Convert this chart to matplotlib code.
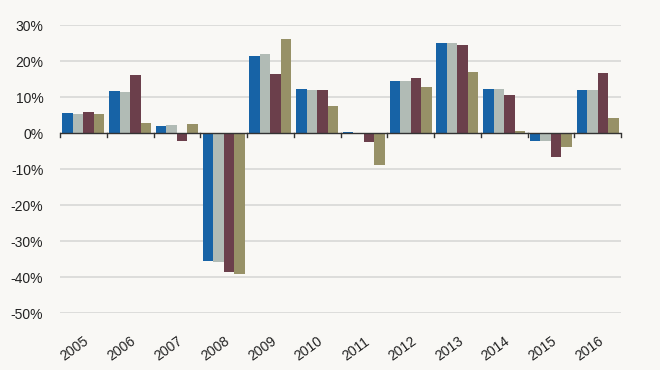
import matplotlib
matplotlib.use("Agg")
import matplotlib.pyplot as plt
import numpy as np

years = ["2005", "2006", "2007", "2008", "2009", "2010",
         "2011", "2012", "2013", "2014", "2015", "2016"]
series_a = [5.6, 11.7, 2.1, -35.5, 21.5, 12.2, 0.3, 14.4, 25.1, 12.2, -2.2, 12.1]
series_b = [5.3, 11.5, 2.4, -35.7, 21.9, 12.0, 0.2, 14.4, 25.1, 12.2, -2.1, 12.0]
series_c = [5.8, 16.3, -2.0, -38.6, 16.5, 11.9, -2.3, 15.3, 24.5, 10.6, -6.6, 16.8]
series_d = [5.4, 2.8, 2.7, -39.2, 26.2, 7.7, -8.9, 12.8, 17.0, 0.6, -3.9, 4.2]
yticks = [30, 20, 10, 0, -10, -20, -30, -40, -50]

colors = ["#1763a6", "#b1bbb5", "#6b3f4b", "#979167"]
bg = "#f9f8f5"

plt.rcParams['font.family'] = ['Liberation Sans', 'DejaVu Sans']

fig = plt.figure(figsize=(6.6, 3.7), dpi=100, facecolor=bg)
ax = fig.add_axes([60/660, 1-313.3/370, (621-60)/660, (313.3-25.3)/370])
ax.set_facecolor(bg)

x = np.arange(len(years))
w = 0.225
for i, s in enumerate([series_a, series_b, series_c, series_d]):
    ax.bar(x + (i - 1.5) * w, s, width=w, color=colors[i], zorder=3, linewidth=0)

ax.set_ylim(-50, 30)
ax.set_xlim(-0.5, len(years) - 0.5)
ax.set_yticks(yticks)
ax.set_yticklabels([f"{v}%" for v in yticks], fontsize=10, color="#222222")
for v in yticks:
    if v != 0:
        ax.axhline(v, color="#d8d8d6", linewidth=1.2, zorder=1)
ax.axhline(0, color="#333333", linewidth=1.0, zorder=4)
# tick marks at the zero line between groups
for b in np.arange(-0.5, len(years), 1.0):
    ax.plot([b, b], [0, -1.1], color="#333333", linewidth=1.0, zorder=4, clip_on=False)

ax.set_xticks(x)
ax.set_xticklabels(years, rotation=36, ha="right", rotation_mode="anchor",
                   fontsize=10, color="#222222")
ax.tick_params(axis="both", length=0)
ax.tick_params(axis="x", pad=15)
ax.tick_params(axis="y", pad=12)
for sp in ax.spines.values():
    sp.set_visible(False)

fig.savefig("out.png", dpi=100, facecolor=bg)
